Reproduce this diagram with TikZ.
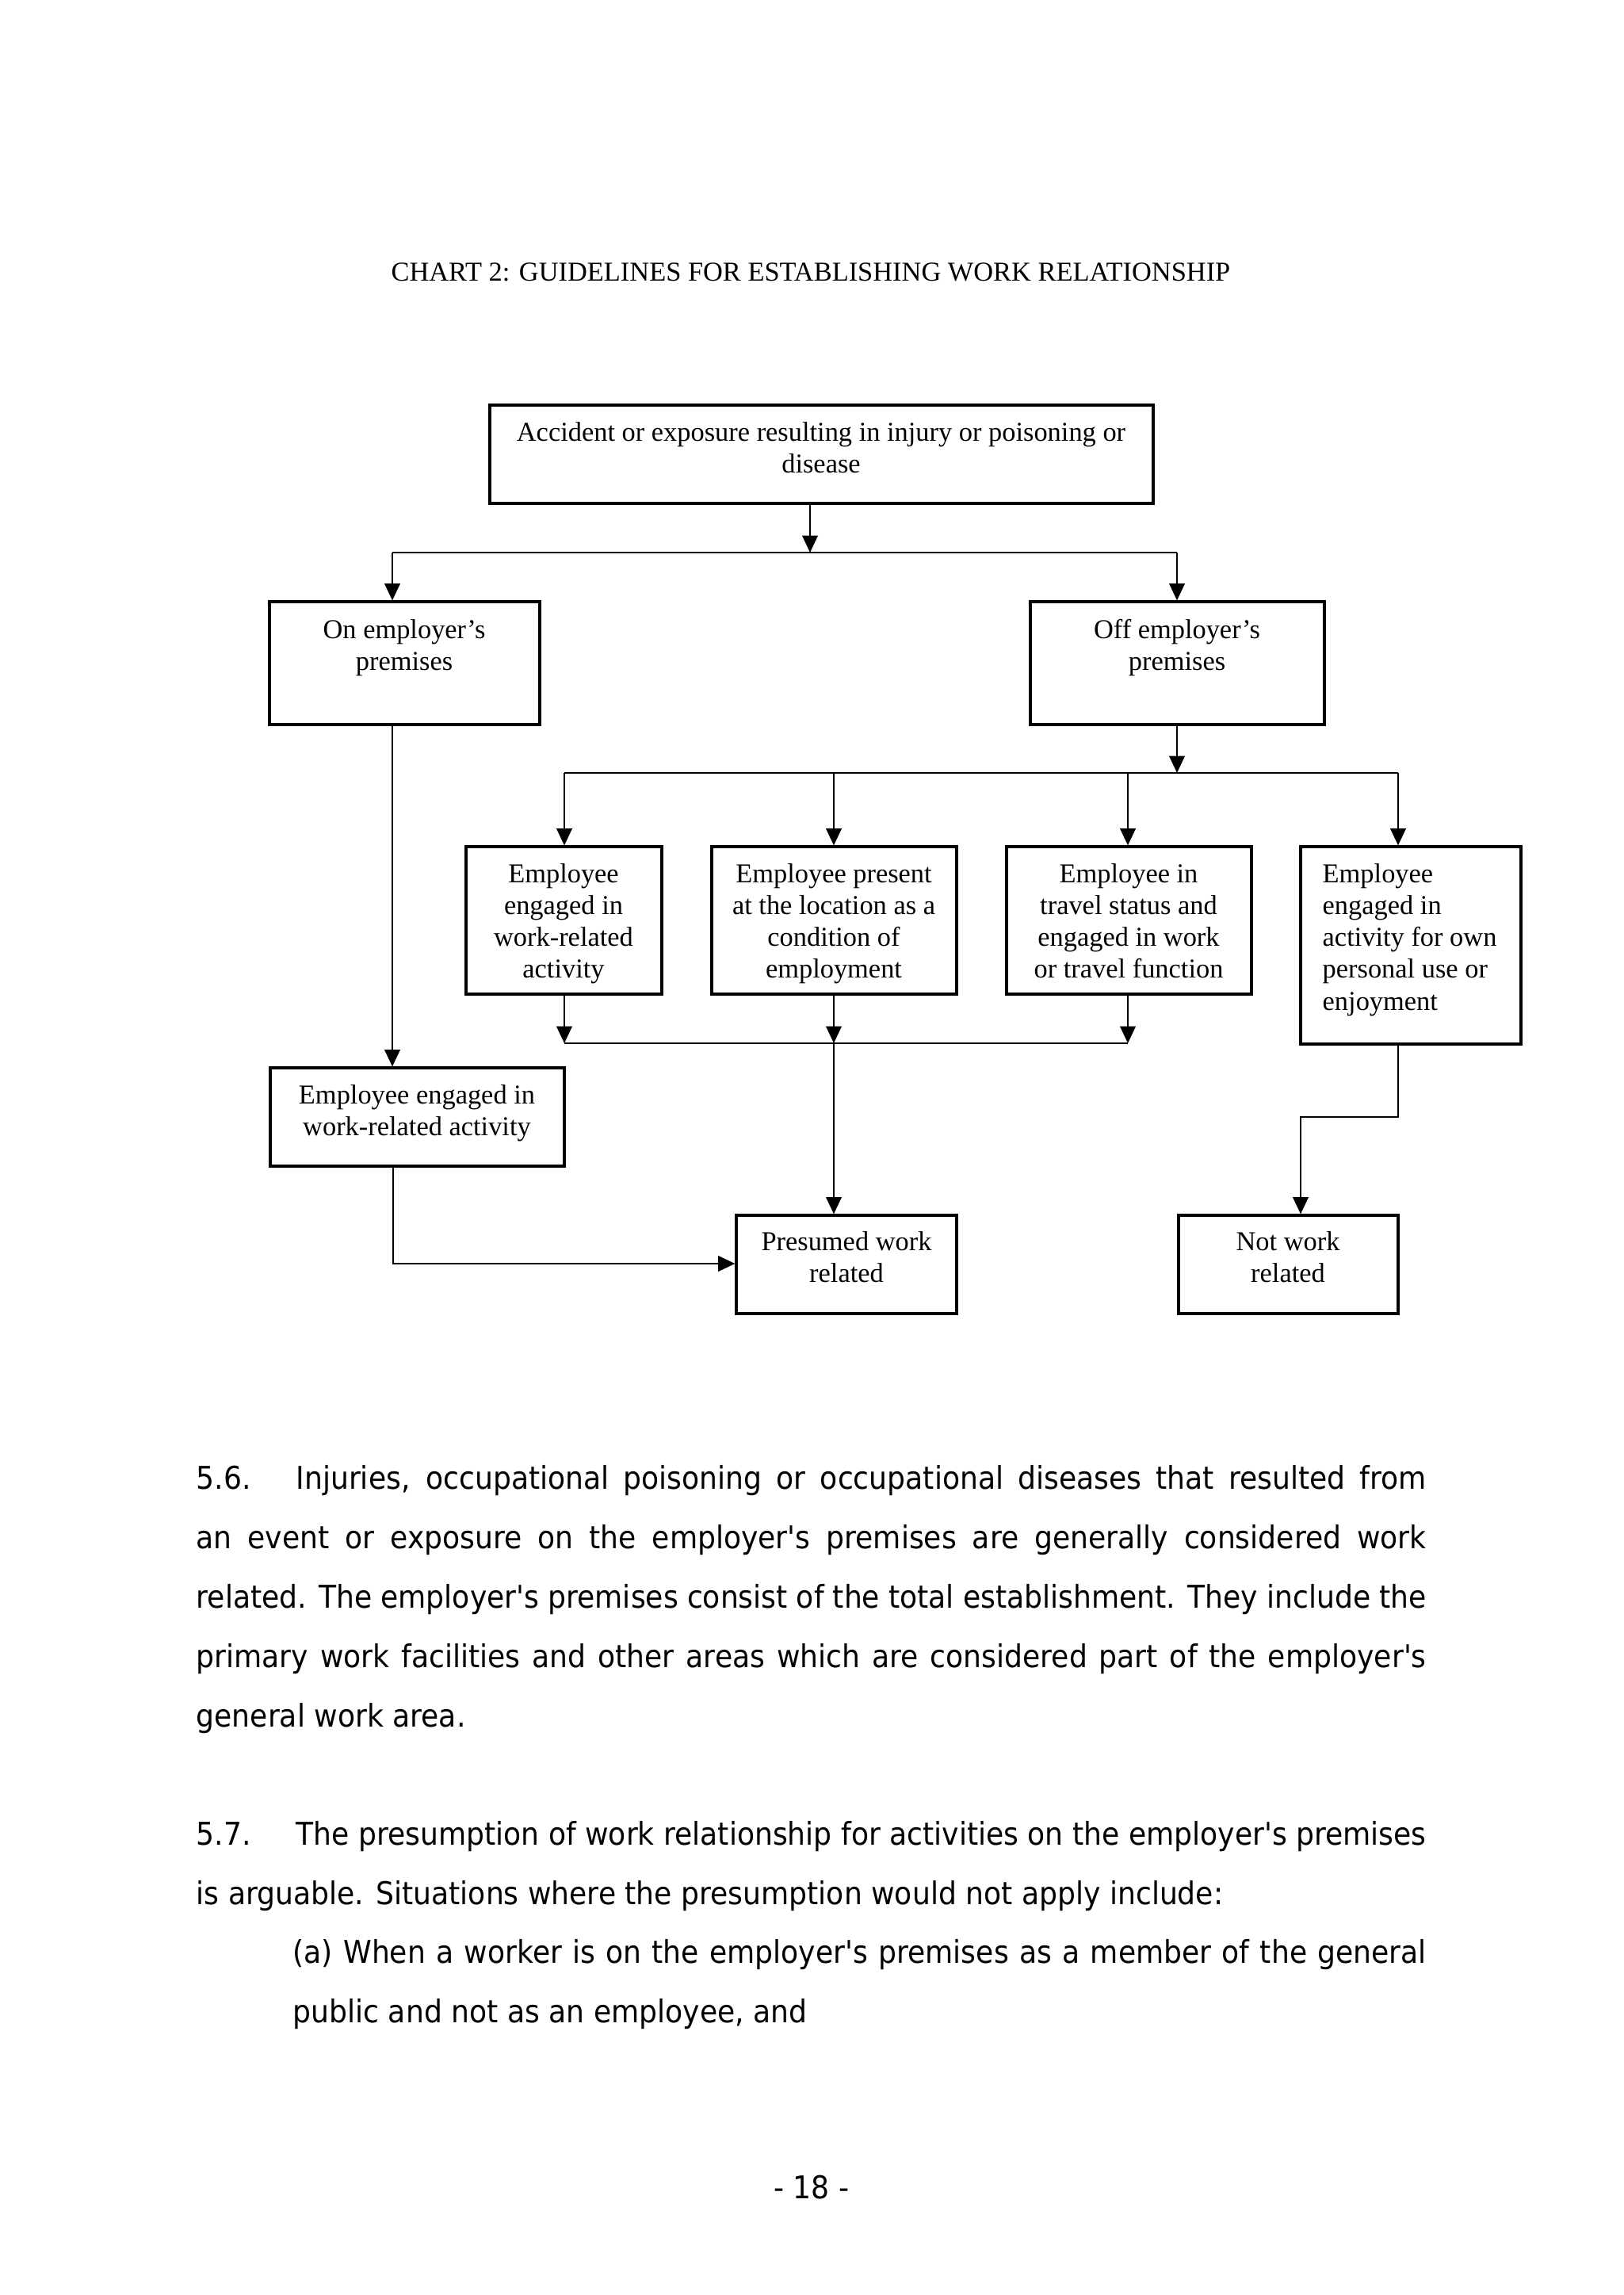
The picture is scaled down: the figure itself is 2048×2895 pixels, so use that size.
\documentclass[tikz,border=0pt]{standalone}
\usepackage{fontspec}
\setmainfont{Liberation Serif}
\newfontfamily\bodyfont{DejaVu Sans}[FakeStretch=0.9135]
\usetikzlibrary{arrows.meta,fit}
\tikzset{
  box/.style={draw, line width=0.9pt, inner sep=0pt},
  txt/.style={inner sep=0pt, align=center, anchor=north, font=\fontsize{10pt}{11.7pt}\selectfont},
  txtl/.style={inner sep=0pt, align=left, anchor=north west, font=\fontsize{10pt}{11.7pt}\selectfont},
  ln/.style={line width=0.85pt},
  arr/.style={line width=0.85pt, -{Triangle[length=6.2pt,width=5.6pt]}},
  body/.style={inner sep=0pt, anchor=north west, align=justify, font=\bodyfont\fontsize{11.5pt}{21.8pt}\selectfont},
}
\newcommand{\fst}{\rule{0pt}{8pt}}
\newcommand{\bst}{\rule{0pt}{9pt}}
\begin{document}
\begin{tikzpicture}[x=0.29067pt,y=-0.29067pt]
\fill[white] (0,0) rectangle (2048,2895);
\useasboundingbox (0,0) rectangle (2048,2895);

% title
\node[inner sep=0pt, anchor=base, font=\fontsize{10pt}{12pt}\selectfont] (title) at (1023,354)
  {CHART 2: GUIDELINES FOR ESTABLISHING WORK RELATIONSHIP};

% boxes
\node[box, fit={(618,511)(1455,635)}] (top) {};
\node[box, fit={(340,759)(681,914)}] (on) {};
\node[box, fit={(1300,759)(1671,914)}] (off) {};
\node[box, fit={(588,1068)(835,1254)}] (b1) {};
\node[box, fit={(898,1068)(1207,1254)}] (b2) {};
\node[box, fit={(1270,1068)(1579,1254)}] (b3) {};
\node[box, fit={(1641,1068)(1919,1317)}] (b4) {};
\node[box, fit={(341,1347)(712,1471)}] (b5) {};
\node[box, fit={(929,1533)(1207,1657)}] (pres) {};
\node[box, fit={(1487,1533)(1764,1657)}] (notw) {};

% texts
\node[txt] (topT) at (1036,528) {\fst Accident or exposure resulting in injury or poisoning or\\disease};
\node[txt] (onT) at (510,777) {\fst On employer’s\\premises};
\node[txt] (offT) at (1485,777) {\fst Off employer’s\\premises};
\node[txt] (b1T) at (711,1085) {\fst Employee\\engaged in\\work-related\\activity};
\node[txt] (b2T) at (1052,1085) {\fst Employee present\\at the location as a\\condition of\\employment};
\node[txt] (b3T) at (1424,1085) {\fst Employee in\\travel status and\\engaged in work\\or travel function};
\node[txtl] (b4T) at (1668,1085) {\fst Employee\\engaged in\\activity for own\\personal use or\\enjoyment};
\node[txt] (b5T) at (526,1364) {\fst Employee engaged in\\work-related activity};
\node[txt] (presT) at (1068,1549) {\fst Presumed work\\related};
\node[txt] (notwT) at (1625,1549) {\fst Not work\\related};

% connectors
\coordinate (j0) at (1022,697);
\coordinate (hL) at (495,697);
\coordinate (hR) at (1485,697);
\draw[arr] (top.south -| j0) -- (j0);
\draw[ln] (hL) -- (hR);
\draw[arr] (hL) -- (hL |- on.north);
\draw[arr] (hR) -- (hR |- off.north);

\coordinate (h2) at (1485,975);
\coordinate (k1) at (712,975);
\coordinate (k2) at (1052,975);
\coordinate (k3) at (1423,975);
\coordinate (k4) at (1764,975);
\draw[arr] (h2 |- off.south) -- (h2);
\draw[ln] (k1) -- (k4);
\draw[arr] (k1) -- (k1 |- b1.north);
\draw[arr] (k2) -- (k2 |- b2.north);
\draw[arr] (k3) -- (k3 |- b3.north);
\draw[arr] (k4) -- (k4 |- b4.north);

\coordinate (m1) at (712,1316);
\coordinate (m2) at (1052,1316);
\coordinate (m3) at (1423,1316);
\draw[arr] (m1 |- b1.south) -- (m1);
\draw[arr] (m2 |- b2.south) -- (m2);
\draw[arr] (m3 |- b3.south) -- (m3);
\draw[ln] (m1) -- (m3);
\draw[arr] (m2) -- (m2 |- pres.north);

\draw[arr] (hL |- on.south) -- (hL |- b5.north);
\coordinate (c5) at (496,1594);
\draw[arr] (c5 |- b5.south) -- (c5) -- (c5 -| pres.west);

\coordinate (r1) at (1764,1409);
\coordinate (r2) at (1641,1409);
\draw[arr] (r1 |- b4.south) -- (r1) -- (r2) -- (r2 |- notw.north);

% body text
\node[body, text width=451.1pt] (p56) at (247,1847)
  {\bst\makebox[36.6pt][l]{5.6.}Injuries, occupational poisoning or occupational diseases that resulted from\linebreak
   an event or exposure on the employer's premises are generally considered work\linebreak
   related. The employer's premises consist of the total establishment. They include the\linebreak
   primary work facilities and other areas which are considered part of the employer's\linebreak
   general work area.};
\node[body, text width=451.1pt] (p57) at (247,2296)
  {\bst\makebox[36.6pt][l]{5.7.}The presumption of work relationship for activities on the employer's premises\linebreak
   is arguable. Situations where the presumption would not apply include:};
\node[body, text width=415.7pt] (pa) at (369,2445)
  {\bst(a) When a worker is on the employer's premises as a member of the general\linebreak
   public and not as an employee, and};

\node[inner sep=0pt, anchor=base, font=\bodyfont\fontsize{11.5pt}{14pt}\selectfont] (pg) at (1024,2773) {- 18 -};
\end{tikzpicture}
\end{document}
